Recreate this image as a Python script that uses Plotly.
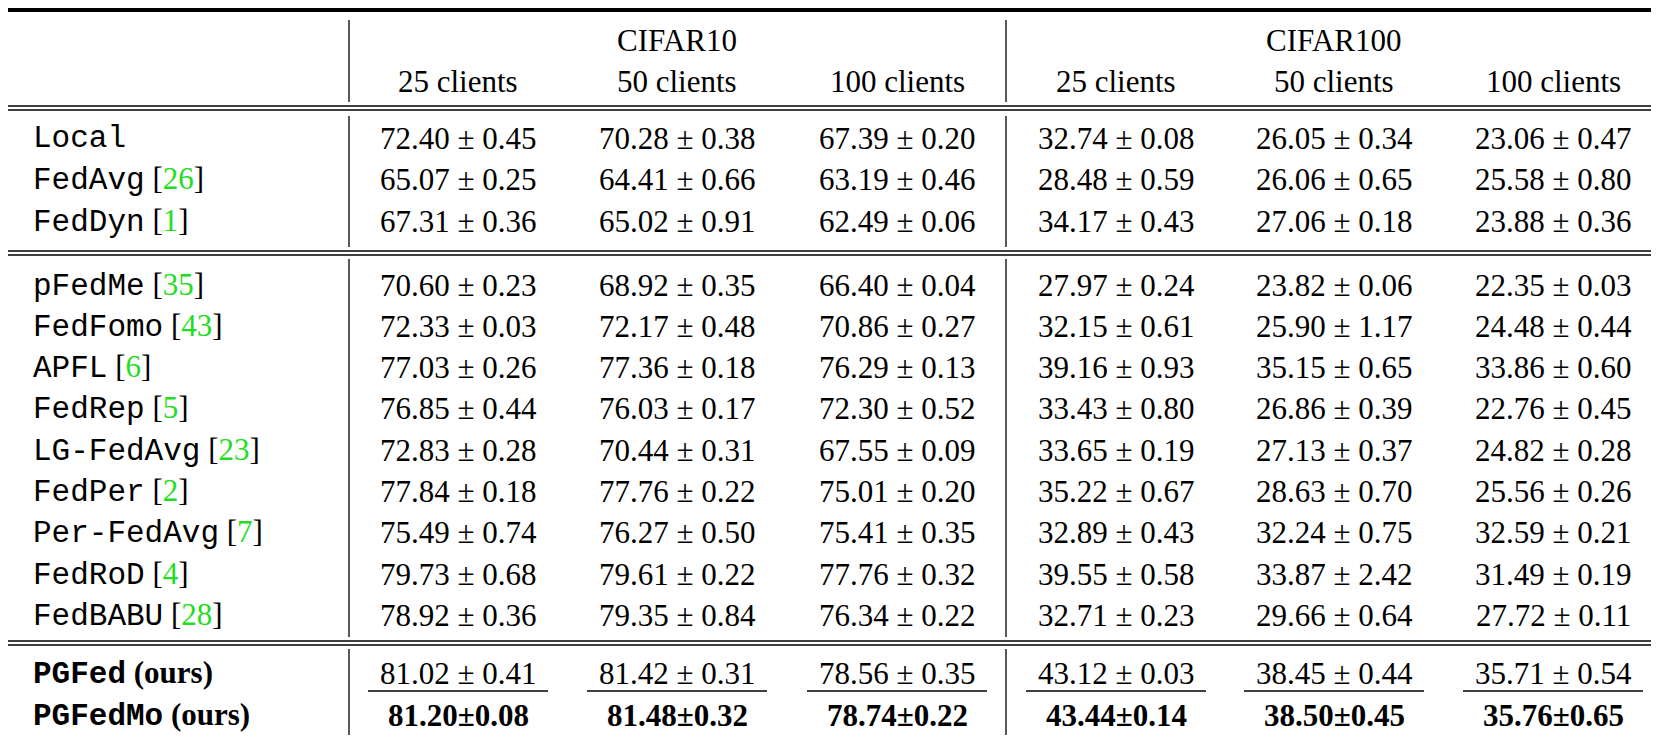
import plotly.graph_objects as go

# ---------------- data ----------------
datasets = ["CIFAR10", "CIFAR100"]
clients = ["25 clients", "50 clients", "100 clients"]

methods = ["Local", "FedAvg", "FedDyn", "pFedMe", "FedFomo", "APFL", "FedRep",
           "LG-FedAvg", "FedPer", "Per-FedAvg", "FedRoD", "FedBABU",
           "PGFed", "PGFedMo"]
cites = ["", "26", "1", "35", "43", "6", "5", "23", "2", "7", "4", "28", "", ""]
groups = [0, 0, 0, 1, 1, 1, 1, 1, 1, 1, 1, 1, 2, 2]

means = [
    [72.40, 70.28, 67.39, 32.74, 26.05, 23.06],
    [65.07, 64.41, 63.19, 28.48, 26.06, 25.58],
    [67.31, 65.02, 62.49, 34.17, 27.06, 23.88],
    [70.60, 68.92, 66.40, 27.97, 23.82, 22.35],
    [72.33, 72.17, 70.86, 32.15, 25.90, 24.48],
    [77.03, 77.36, 76.29, 39.16, 35.15, 33.86],
    [76.85, 76.03, 72.30, 33.43, 26.86, 22.76],
    [72.83, 70.44, 67.55, 33.65, 27.13, 24.82],
    [77.84, 77.76, 75.01, 35.22, 28.63, 25.56],
    [75.49, 76.27, 75.41, 32.89, 32.24, 32.59],
    [79.73, 79.61, 77.76, 39.55, 33.87, 31.49],
    [78.92, 79.35, 76.34, 32.71, 29.66, 27.72],
    [81.02, 81.42, 78.56, 43.12, 38.45, 35.71],
    [81.20, 81.48, 78.74, 43.44, 38.50, 35.76],
]
stds = [
    [0.45, 0.38, 0.20, 0.08, 0.34, 0.47],
    [0.25, 0.66, 0.46, 0.59, 0.65, 0.80],
    [0.36, 0.91, 0.06, 0.43, 0.18, 0.36],
    [0.23, 0.35, 0.04, 0.24, 0.06, 0.03],
    [0.03, 0.48, 0.27, 0.61, 1.17, 0.44],
    [0.26, 0.18, 0.13, 0.93, 0.65, 0.60],
    [0.44, 0.17, 0.52, 0.80, 0.39, 0.45],
    [0.28, 0.31, 0.09, 0.19, 0.37, 0.28],
    [0.18, 0.22, 0.20, 0.67, 0.70, 0.26],
    [0.74, 0.50, 0.35, 0.43, 0.75, 0.21],
    [0.68, 0.22, 0.32, 0.58, 2.42, 0.19],
    [0.36, 0.84, 0.22, 0.23, 0.64, 0.11],
    [0.41, 0.31, 0.35, 0.03, 0.44, 0.54],
    [0.08, 0.32, 0.22, 0.14, 0.45, 0.65],
]
underline_row = 12
bold_row = 13

# ---------------- layout geometry ----------------
W, H = 1659, 738
SERIF = "'Liberation Serif', 'DejaVu Serif', serif"
MONO = "'Liberation Mono', 'DejaVu Sans Mono', monospace"
FS = 31
GREEN = "#22dd22"
col_x = [450, 669, 889, 1108, 1326, 1545]
vlines = [341, 998]
name_x = 23
hdr_y = [32, 73]
group_start = [130, 277, 665]
group_step = [41.5, 41.3, 42]


def row_y(i):
    g = groups[i]
    k = i - groups.index(g)
    return group_start[g] + k * group_step[g]


fig = go.Figure()
ann = []

# header
for d, ds in enumerate(datasets):
    ann.append(dict(x=col_x[3 * d + 1], y=hdr_y[0], text=ds,
                    font=dict(family=SERIF, size=FS)))
    for c, cl in enumerate(clients):
        ann.append(dict(x=col_x[3 * d + c], y=hdr_y[1], text=cl,
                        font=dict(family=SERIF, size=FS)))

# body
for i, m in enumerate(methods):
    y = row_y(i)
    if groups[i] == 2:
        name = f'<b>{m}</b><span style="font-family:{SERIF}"><b> (ours)</b></span>'
    else:
        name = m
        if cites[i]:
            name += (f'<span style="font-family:{SERIF}"> [<span style="color:{GREEN}">'
                     f'{cites[i]}</span>]</span>')
    ann.append(dict(x=name_x, y=y, text=name, xanchor="left",
                    font=dict(family=MONO, size=FS)))
    for j in range(6):
        if i == bold_row:
            txt = f"<b>{means[i][j]:.2f}±{stds[i][j]:.2f}</b>"
        else:
            txt = f"{means[i][j]:.2f} ± {stds[i][j]:.2f}"
        ann.append(dict(x=col_x[j], y=y, text=txt,
                        font=dict(family=SERIF, size=FS)))

for a in ann:
    a.update(xref="x", yref="y", showarrow=False, yanchor="middle",
             font=dict(color="black", **a["font"]))
    a.setdefault("xanchor", "center")

# rules
shapes = []
def hline(y, w):
    shapes.append(dict(type="line", xref="x", yref="y", x0=0, x1=W, y0=y, y1=y,
                       line=dict(color="black", width=w)))

hline(2, 4)
for y in (100, 245, 635):
    hline(y - 2, 1.3)
    hline(y + 2, 1.3)
hline(735, 4)

segments = [(12, 94), (108, 239), (251, 629), (641, 727)]
for vx in vlines:
    for y0, y1 in segments:
        shapes.append(dict(type="line", xref="x", yref="y", x0=vx, x1=vx, y0=y0, y1=y1,
                           line=dict(color="black", width=1.3)))

# underline for second-best row
uy = row_y(underline_row) + 18
for j in range(6):
    shapes.append(dict(type="line", xref="x", yref="y", x0=col_x[j] - 90, x1=col_x[j] + 90,
                       y0=uy, y1=uy, line=dict(color="black", width=1.5)))

fig.update_layout(
    width=W, height=H, margin=dict(l=0, r=0, t=0, b=0),
    paper_bgcolor="white", plot_bgcolor="white",
    xaxis=dict(range=[0, W], visible=False, fixedrange=True),
    yaxis=dict(range=[H, 0], visible=False, fixedrange=True),
    annotations=ann, shapes=shapes, showlegend=False,
)

fig.write_html("out.html")
